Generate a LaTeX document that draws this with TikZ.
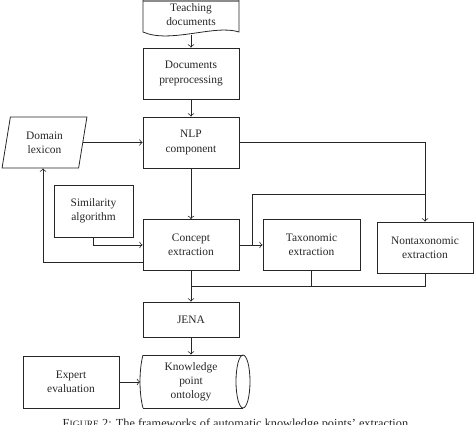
\documentclass[tikz,border=0pt]{standalone}
\usepackage{fontspec}
\setmainfont{Liberation Serif}
\usetikzlibrary{shapes.geometric}

\begin{document}
\begin{tikzpicture}[x = 0.02cm, y = -0.02cm, line width = 0.45pt, color = black!85,
	every node/.style = {font = \fontsize{6.5}{8}\selectfont},
	box/.style = {draw, align = center, minimum width = 1.92cm, minimum height = 1.02cm, inner sep = 1pt},
	lex/.style = {draw, trapezium, trapezium left angle = 79, trapezium right angle = 101,
		trapezium stretches = true, minimum width = 1.7cm, minimum height = 1.02cm, align = center, inner sep = 1pt}]
\useasboundingbox (0, 0) rectangle (474, 425);
\fill[black!45] (143, 0) rectangle (239, 2);
\draw (143, 0) -- (143, 32) .. controls (170, 44) and (215, 24) .. (239, 32) -- (239, 0);
\node[align = center] (teach) at (191, 15) {Teaching\\documents};
\coordinate (teachb) at (191, 35);
\node[box] (prep) at (191, 73.5) {Documents\\preprocessing};
\node[box] (nlp) at (191, 142.5) {NLP\\component};
\node[lex] (lexicon) at (44.5, 142.5) {Domain\\lexicon};
\node[box, minimum width = 1.58cm, minimum height = 1.04cm] (sim) at (93.5, 211) {Similarity\\algorithm};
\node[box] (concept) at (191, 245) {Concept\\extraction};
\node[box, minimum width = 1.94cm] (taxo) at (311.5, 245) {Taxonomic\\extraction};
\node[box] (nontaxo) at (425, 247.5) {Nontaxonomic\\extraction};
\node[box, minimum height = 0.7cm] (jena) at (191, 319.5) {JENA};
\node[align = center, minimum width = 2.02cm, minimum height = 1.06cm, inner sep = 1pt] (kpo) at (191, 381.5)
	{Knowledge\\point\\ontology};
\draw (143, 355) -- (243, 355) (143, 408) -- (243, 408);
\draw (143, 355) .. controls (139, 370) and (139, 393) .. (143, 408);
\draw (243, 381.5) ellipse [x radius = 0.14cm, y radius = 0.53cm];
\node[box, minimum height = 1.04cm] (expert) at (71, 382) {Expert\\evaluation};
\node[anchor = base, font = \fontsize{7}{8}\selectfont] (caption) at (237, 428)
	{F{\fontsize{5.5}{6}\selectfont IGURE} 2: The frameworks of automatic knowledge points' extraction.};
\coordinate (branch) at (252, 245);
\coordinate (fork) at (252, 194);
\coordinate (back) at (43, 262);
\coordinate (merge) at (191, 286);
\draw[->] (teachb) -- (prep);
\draw[->] (prep) -- (nlp);
\draw[->] (lexicon) -- (nlp);
\draw[->] (nlp) -- (concept);
\draw[->] (nlp.east) -| (nontaxo.north);
\draw[->] (concept) -- (taxo);
\draw (branch) -- (fork) -- (fork -| nontaxo.north);
\draw[->] (sim.south) |- (concept.west);
\draw[->] (concept.west |- back) -- (back) -- (back |- lexicon.south);
\draw[->] (concept) -- (jena);
\draw (taxo.south) |- (merge);
\draw (nontaxo.south) |- (merge);
\draw[->] (jena.south) -- (kpo.north);
\draw[->] (expert.east) -- (expert.east -| kpo.west);
\end{tikzpicture}
\end{document}
